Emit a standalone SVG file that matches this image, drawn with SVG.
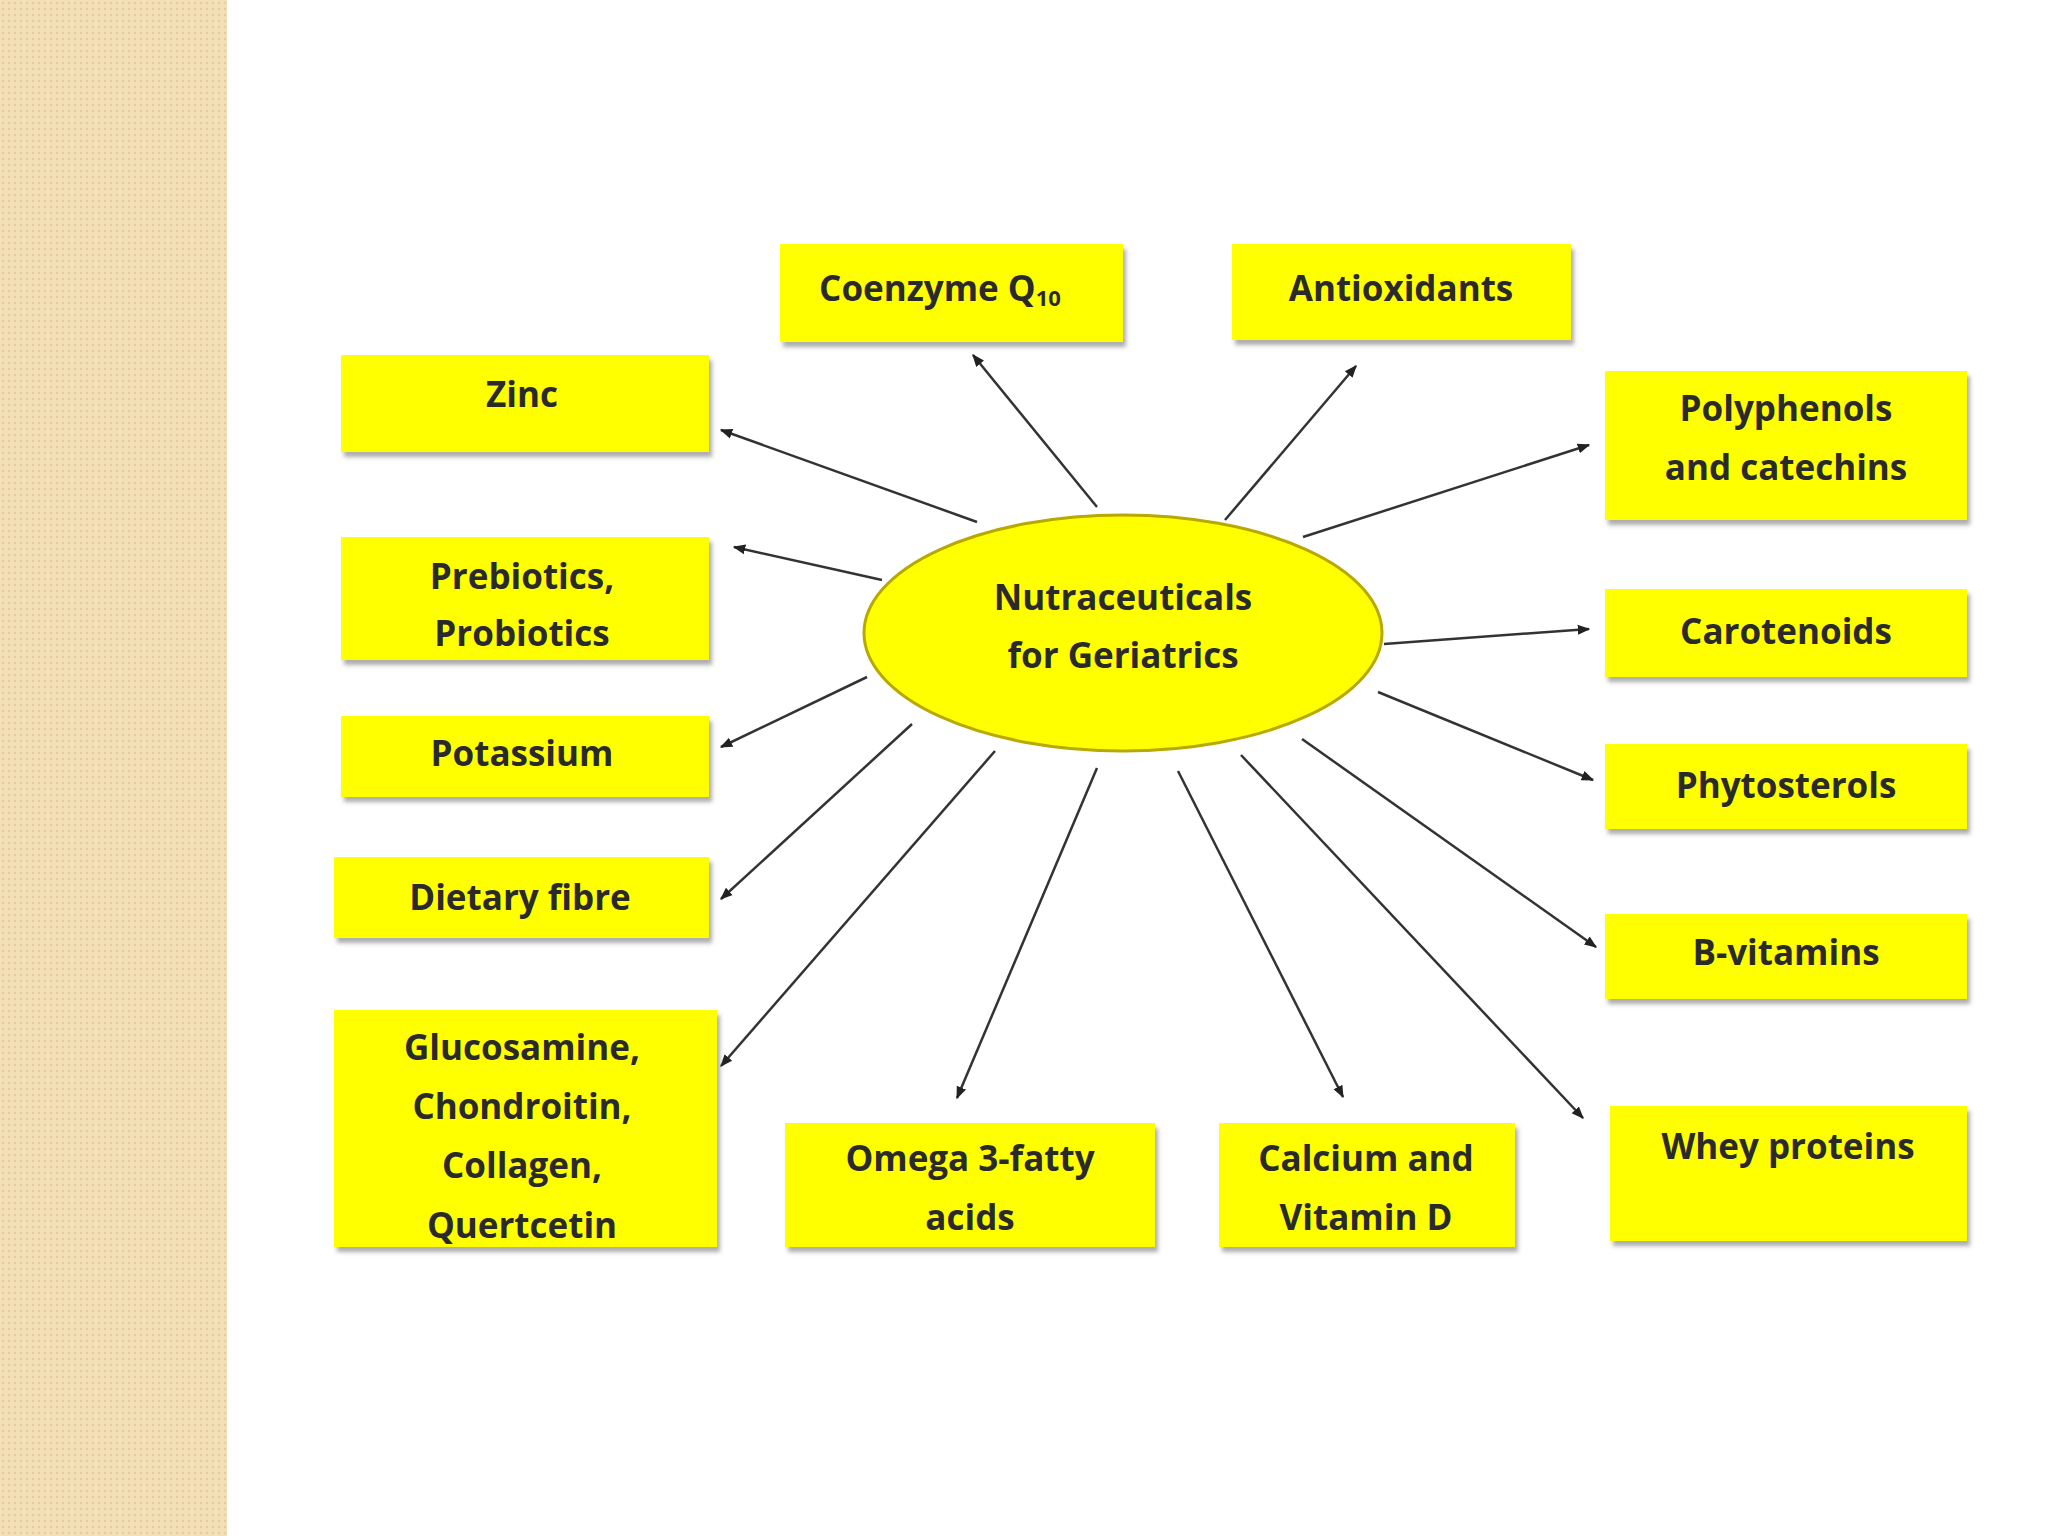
<svg xmlns="http://www.w3.org/2000/svg" width="2048" height="1536" viewBox="0 0 2048 1536">
<defs>
<pattern id="dots" width="6" height="6" patternUnits="userSpaceOnUse"><rect width="6" height="6" fill="#f3dfb8"/><circle cx="3" cy="3" r="1.2" fill="#e6cc9c"/></pattern>
<marker id="ah" viewBox="0 0 10 10" refX="9" refY="5" markerWidth="5" markerHeight="5" orient="auto"><path d="M0,1 L10,5 L0,9 z" fill="#222"/></marker>
<filter id="sh" x="-5%" y="-5%" width="115%" height="125%"><feDropShadow dx="3" dy="5" stdDeviation="2" flood-color="#777" flood-opacity="0.6"/></filter>
</defs>
<style>
.b{fill:#ffff00;filter:url(#sh)}
.t{font-family:"Open Sans","Liberation Sans",sans-serif;font-weight:bold;font-size:35px;fill:#2a2a2a;text-anchor:middle;dominant-baseline:central}
.c line{stroke:#333;stroke-width:2.5;marker-end:url(#ah)}
</style>
<rect width="2048" height="1536" fill="#fff"/>
<rect width="227" height="1536" fill="url(#dots)"/>
<g class="c">
<line x1="977" y1="522" x2="721" y2="430"/>
<line x1="1097" y1="507" x2="973" y2="355"/>
<line x1="1225" y1="520" x2="1356" y2="366"/>
<line x1="1303" y1="537" x2="1589" y2="445"/>
<line x1="882" y1="580" x2="734" y2="547"/>
<line x1="1384" y1="644" x2="1589" y2="629"/>
<line x1="867" y1="677" x2="721" y2="747"/>
<line x1="1378" y1="692" x2="1593" y2="780"/>
<line x1="912" y1="724" x2="721" y2="899"/>
<line x1="1302" y1="739" x2="1596" y2="947"/>
<line x1="995" y1="751" x2="721" y2="1066"/>
<line x1="1097" y1="768" x2="957" y2="1098"/>
<line x1="1178" y1="771" x2="1343" y2="1097"/>
<line x1="1241" y1="755" x2="1583" y2="1118"/>
</g>
<g id="center"><ellipse cx="1123" cy="633" rx="259" ry="118" fill="#ffff00" stroke="#b8a800" stroke-width="3"/><text class="t" x="1123" y="596">Nutraceuticals</text><text class="t" x="1123" y="654">for Geriatrics</text></g>
<g id="coq"><rect class="b" x="780" y="244" width="343" height="98"/><text class="t" x="940" y="287">Coenzyme Q<tspan font-size="22" dy="10">10</tspan></text></g>
<g id="antiox"><rect class="b" x="1232" y="244" width="339" height="96"/><text class="t" x="1401" y="287">Antioxidants</text></g>
<g id="zinc"><rect class="b" x="341" y="355" width="368" height="97"/><text class="t" x="522" y="393">Zinc</text></g>
<g id="poly"><rect class="b" x="1605" y="371" width="362" height="149"/><text class="t" x="1786" y="407">Polyphenols</text><text class="t" x="1786" y="466">and catechins</text></g>
<g id="prebio"><rect class="b" x="341" y="537" width="368" height="123"/><text class="t" x="522" y="575">Prebiotics,</text><text class="t" x="522" y="632">Probiotics</text></g>
<g id="carot"><rect class="b" x="1605" y="589" width="362" height="88"/><text class="t" x="1786" y="630">Carotenoids</text></g>
<g id="potas"><rect class="b" x="341" y="716" width="368" height="81"/><text class="t" x="522" y="752">Potassium</text></g>
<g id="phyto"><rect class="b" x="1605" y="744" width="362" height="85"/><text class="t" x="1786" y="784">Phytosterols</text></g>
<g id="fibre"><rect class="b" x="334" y="857" width="375" height="81"/><text class="t" x="520" y="896">Dietary fibre</text></g>
<g id="bvit"><rect class="b" x="1605" y="914" width="362" height="85"/><text class="t" x="1786" y="951">B-vitamins</text></g>
<g id="gluco"><rect class="b" x="334" y="1010" width="383" height="237"/><text class="t" x="522" y="1046">Glucosamine,</text><text class="t" x="522" y="1105">Chondroitin,</text><text class="t" x="522" y="1164">Collagen,</text><text class="t" x="522" y="1224">Quertcetin</text></g>
<g id="omega"><rect class="b" x="785" y="1123" width="370" height="124"/><text class="t" x="970" y="1157">Omega 3-fatty</text><text class="t" x="970" y="1216">acids</text></g>
<g id="calc"><rect class="b" x="1219" y="1123" width="296" height="124"/><text class="t" x="1366" y="1157">Calcium and</text><text class="t" x="1366" y="1216">Vitamin D</text></g>
<g id="whey"><rect class="b" x="1610" y="1106" width="357" height="135"/><text class="t" x="1788" y="1145">Whey proteins</text></g>
</svg>
